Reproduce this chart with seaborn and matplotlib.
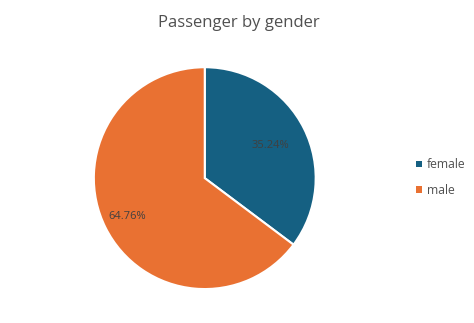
import matplotlib
matplotlib.use("Agg")
import matplotlib.pyplot as plt
import seaborn as sns
import numpy as np
from matplotlib.patches import Patch

categories = ["female", "male"]
values = [35.24, 64.76]
labels_pct = ["35.24%", "64.76%"]
colors = ["#156082", "#E97132"]

sns.set_theme(style="white")
plt.rcParams['font.family'] = ['Open Sans', 'DejaVu Sans']

fig = plt.figure(figsize=(4.74, 3.23), dpi=100)
ax = fig.add_axes([0.198, 0.105, 0.468, 0.687])
wedges, texts = ax.pie(values, colors=colors, startangle=90, counterclock=False,
                       wedgeprops=dict(edgecolor="white", linewidth=1.5))
dists = [0.66, 0.78]
for w, lab, d in zip(wedges, labels_pct, dists):
    ang = np.deg2rad((w.theta1 + w.theta2) / 2)
    ax.text(d * np.cos(ang), d * np.sin(ang), lab, ha="center", va="center",
            fontsize=8, color="#404040")
ax.set_aspect("equal")
ax.set_xlim(-1, 1)
ax.set_ylim(-1, 1)

fig.text(0.503, 0.93, "Passenger by gender", ha="center", va="center",
         fontsize=12, color="#505050")

handles = [Patch(facecolor=c, edgecolor="none") for c in colors]
fig.legend(handles, categories, loc="center left", bbox_to_anchor=(0.855, 0.45),
           frameon=False, fontsize=8.7, handlelength=0.45, handleheight=0.45,
           handletextpad=0.45, labelspacing=1.05, labelcolor="#505050")

fig.savefig("out.png", dpi=100, facecolor="white")
